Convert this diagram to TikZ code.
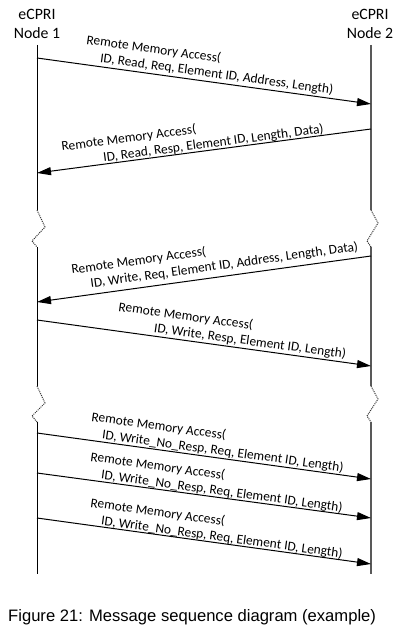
\documentclass[tikz,border=0pt]{standalone}
\usepackage{fontspec}
\setmainfont{Carlito}
\newfontfamily\capfont{Liberation Sans}
\usetikzlibrary{arrows.meta}
\tikzset{
  life/.style={line width=1pt, black},
  lifeR/.style={line width=1.3pt, black!65},
  brk/.style={line width=1pt, densely dotted, black!80},
  msg/.style={line width=1pt, -{Triangle[length=14pt,width=8pt]}},
  lbl/.style={inner sep=0pt, anchor=base west, font=\fontsize{13.4}{16}\selectfont},
  head/.style={inner sep=0pt, font=\fontsize{15.8}{19}\selectfont},
}
\newcommand{\twolines}[3]{\begin{tabular}[t]{@{}l@{}}#1\\\hspace*{#2}#3\end{tabular}}
\begin{document}
\begin{tikzpicture}[x=1pt,y=-1pt]
\useasboundingbox (0,0) rectangle (403,636);
% headers
\node[head, anchor=base] (n1a) at (37,20) {eCPRI};
\node[head, anchor=base] (n1b) at (37,39) {Node 1};
\node[head, anchor=base] (n2a) at (370,20) {eCPRI};
\node[head, anchor=base] (n2b) at (370,39) {Node 2};
% lifelines left
\coordinate (L0) at (37,45);
\coordinate (L1) at (37,210);
\coordinate (L2) at (37,247);
\coordinate (L3) at (37,386);
\coordinate (L4) at (37,422);
\coordinate (L5) at (37,574);
\draw[life] (L0) -- (L1);
\draw[brk] (L1) -- ++(8,17) -- ++(-13,14) -- (L2);
\draw[life] (L2) -- (L3);
\draw[brk] (L3) -- ++(8,17) -- ++(-13,13) -- (L4);
\draw[life] (L4) -- (L5);
% lifelines right
\coordinate (R0) at (371,45);
\coordinate (R1) at (371,210);
\coordinate (R2) at (371,247);
\coordinate (R3) at (371,386);
\coordinate (R4) at (371,422);
\coordinate (R5) at (371,574);
\draw[lifeR] (R0) -- (R1);
\draw[brk] (R1) -- ++(7,13) -- ++(-11,18) -- (R2);
\draw[lifeR] (R2) -- (R3);
\draw[brk] (R3) -- ++(7,13) -- ++(-11,17) -- (R4);
\draw[lifeR] (R4) -- (R5);
% message endpoints
\coordinate (m1s) at (37,58);  \coordinate (m1e) at (371,104);
\coordinate (m2s) at (371,129); \coordinate (m2e) at (37,173);
\coordinate (m3s) at (371,256); \coordinate (m3e) at (37,302);
\coordinate (m4s) at (37,320); \coordinate (m4e) at (371,366);
\coordinate (m5s) at (37,433); \coordinate (m5e) at (371,479);
\coordinate (m6s) at (37,473); \coordinate (m6e) at (371,518);
\coordinate (m7s) at (37,518); \coordinate (m7e) at (371,564);
\draw[msg] (m1s) -- (m1e);
\draw[msg] (m2s) -- (m2e);
\draw[msg] (m3s) -- (m3e);
\draw[msg] (m4s) -- (m4e);
\draw[msg] (m5s) -- (m5e);
\draw[msg] (m6s) -- (m6e);
\draw[msg] (m7s) -- (m7e);
% labels
\node[lbl, rotate=-7.84] (t1) at (86,44) {\twolines{Remote Memory Access(}{16pt}{ID, Read, Req, Element ID, Address, Length)}};
\node[lbl, rotate=7.5] (t2) at (62,151) {\twolines{Remote Memory Access(}{40pt}{ID, Read, Resp, Element ID, Length, Data)}};
\node[lbl, rotate=7.84] (t3) at (72,274) {\twolines{Remote Memory Access(}{17pt}{ID, Write, Req, Element ID, Address, Length, Data)}};
\node[lbl, rotate=-7.84] (t4) at (118,311) {\twolines{Remote Memory Access(}{38pt}{ID, Write, Resp, Element ID, Length)}};
\node[lbl, rotate=-7.84] (t5) at (91,421) {\twolines{Remote Memory Access(}{13pt}{ID, Write\_No\_Resp, Req, Element ID, Length)}};
\node[lbl, rotate=-7.84] (t6) at (90,461) {\twolines{Remote Memory Access(}{13pt}{ID, Write\_No\_Resp, Req, Element ID, Length)}};
\node[lbl, rotate=-7.84] (t7) at (90,507) {\twolines{Remote Memory Access(}{13pt}{ID, Write\_No\_Resp, Req, Element ID, Length)}};
% caption
\node[inner sep=0pt, anchor=base west, font=\capfont\fontsize{16.6}{20}\selectfont] (cap) at (8,621) {Figure 21: Message sequence diagram (example)};
\end{tikzpicture}
\end{document}
